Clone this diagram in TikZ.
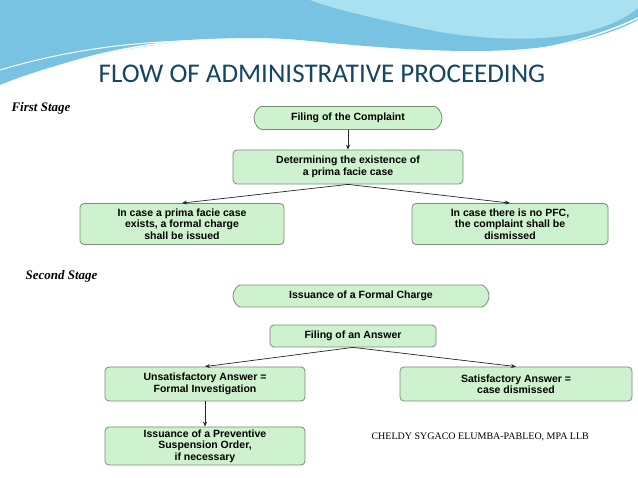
\documentclass[tikz,border=0pt]{standalone}
\usepackage{fontspec}
\setmainfont{Liberation Sans}
\newfontfamily\carlito{Carlito}
\newfontfamily\serifb{Liberation Serif}
\usetikzlibrary{shapes.misc,arrows.meta}
\definecolor{boxfill}{RGB}{205,242,205}
\definecolor{boxdraw}{RGB}{120,140,120}
\definecolor{titlec}{RGB}{20,70,100}
\definecolor{wave1}{RGB}{120,195,225}
\definecolor{wave2}{RGB}{170,225,240}
\tikzset{
 box/.style={draw=boxdraw,fill=boxfill,rounded corners=4pt,align=center,font=\bfseries\fontsize{10.5}{11.5}\selectfont,inner sep=1pt,line width=0.8pt},
 pill/.style={box,rounded rectangle},
 arr/.style={-{Stealth[length=5pt,width=4pt]},line width=0.7pt,draw=black!85}
}
\begin{document}
\begin{tikzpicture}[x=1pt,y=-1pt]
\useasboundingbox (0,0) rectangle (638,478);
\fill[white] (0,0) rectangle (638,478);
% banner waves
\fill[wave1] (0,0) -- (638,0) -- (638,20) .. controls (560,60) and (450,55) .. (300,40) .. controls (180,30) and (60,60) .. (0,85) -- cycle;
\fill[wave2] (310,0) -- (638,0) -- (638,8) .. controls (600,40) and (520,45) .. (440,32) .. controls (380,20) and (330,8) .. (310,0) -- cycle;
\draw[white,line width=1.5pt] (20,80) .. controls (120,40) and (220,30) .. (330,48) .. controls (450,68) and (560,55) .. (638,18);
\draw[white,line width=1pt] (0,70) .. controls (100,40) and (200,36) .. (300,44);
\node[font=\carlito\fontsize{27}{29}\selectfont,text=titlec] (title) at (322,74) {FLOW OF ADMINISTRATIVE PROCEEDING};
\node[font=\serifb\bfseries\itshape\fontsize{13}{14}\selectfont,anchor=west] (s1) at (8,108) {First Stage};
\node[font=\serifb\bfseries\itshape\fontsize{13}{14}\selectfont,anchor=west] (s2) at (22,276) {Second Stage};
\node[pill,minimum width=190,minimum height=23] (a) at (348,118) {Filing of the Complaint};
\node[box,minimum width=230,minimum height=34] (b) at (348,167) {Determining the existence of\\a prima facie case};
\node[box,minimum width=204,minimum height=41] (c) at (182,224) {In case a prima facie case\\exists, a formal charge\\shall be issued};
\node[box,minimum width=196,minimum height=41] (d) at (510,224) {In case there is no PFC,\\the complaint shall be\\dismissed};
\node[pill,minimum width=258,minimum height=22] (e) at (361,296) {Issuance of a Formal Charge};
\node[box,minimum width=166,minimum height=22] (f) at (353,336) {Filing of an Answer};
\node[box,minimum width=200,minimum height=34] (g) at (205,384) {Unsatisfactory Answer =\\Formal Investigation};
\node[box,minimum width=232,minimum height=34] (h) at (516,384) {Satisfactory Answer =\\case dismissed};
\node[box,minimum width=200,minimum height=38] (i) at (205,446) {Issuance of a Preventive\\Suspension Order,\\if necessary};
\node[font=\serifb\fontsize{10}{11}\selectfont,anchor=west] (cr) at (368,437) {CHELDY SYGACO ELUMBA-PABLEO, MPA LLB};
\draw[arr] (a.south) -- (b.north);
\draw[arr] (b.south) -- (c.north);
\draw[arr] (b.south) -- (d.north);
\draw[arr] (f.south) -- (g.north);
\draw[arr] (f.south) -- (h.north);
\draw[arr] (g) -- (i);
\end{tikzpicture}
\end{document}
